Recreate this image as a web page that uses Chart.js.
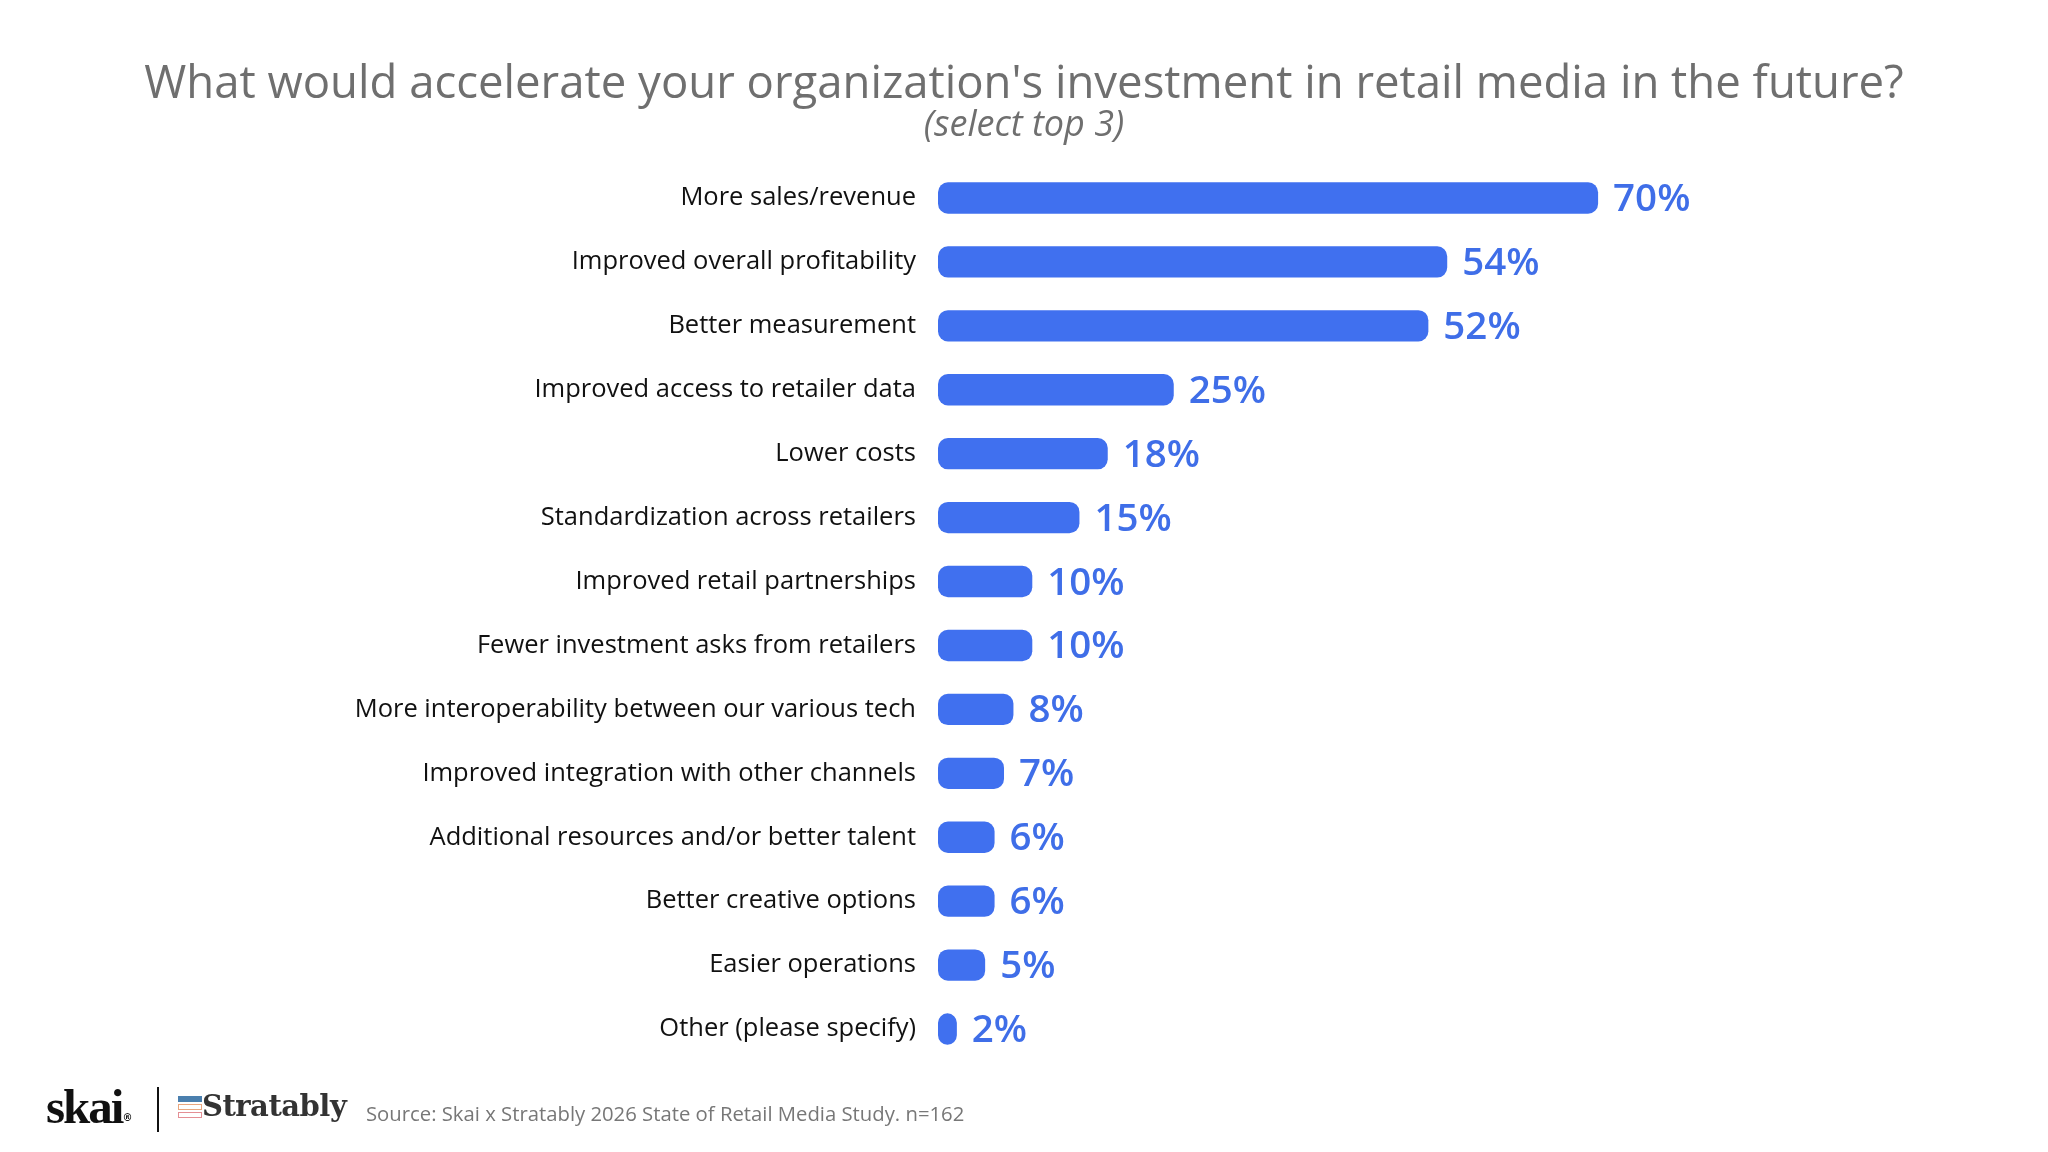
<!DOCTYPE html>
<html>
<head>
<meta charset="utf-8">
<script src="https://cdn.jsdelivr.net/npm/chart.js@4.4.1/dist/chart.umd.min.js"></script>
<style>
  html, body { margin: 0; padding: 0; background: #fff; }
  #wrap { position: relative; width: 2048px; height: 1152px; overflow: hidden; font-family: "Open Sans", sans-serif; }
  #chart { position: absolute; left: 0; top: 0; }
  .title { position: absolute; left: 0; width: 2048px; top: 49px; text-align: center; font-size: 45.5px; color: #6f6f6f; font-weight: 400; }
  .subtitle { position: absolute; left: 0; width: 2048px; top: 98px; text-align: center; font-size: 36px; color: #6f6f6f; font-style: italic; font-weight: 400; }
  .skai { position: absolute; left: 46px; top: 1078px; font-family: "Liberation Serif", serif; font-weight: 700; font-size: 49px; letter-spacing: -2px; color: #111; }
  .skai sup { font-size: 10px; font-family: "DejaVu Sans"; vertical-align: 2px; letter-spacing: 0; }
  .divider { position: absolute; left: 157px; top: 1087px; width: 2px; height: 45px; background: #111; }
  .strat-icon { position: absolute; left: 178px; top: 1096px; width: 24px; }
  .strat-icon div { height: 6px; margin-bottom: 2px; box-sizing: border-box; }
  .strat { position: absolute; left: 202px; top: 1089px; font-family: "DejaVu Serif", serif; font-weight: 700; font-size: 29px; color: #333; letter-spacing: -0.5px; }
  .source { position: absolute; left: 366px; top: 1099px; font-size: 20.3px; color: #777; }
</style>
</head>
<body>
<div id="wrap">
  <canvas id="chart" width="2048" height="1152"></canvas>
  <div class="title">What would accelerate your organization's investment in retail media in the future?</div>
  <div class="subtitle">(select top 3)</div>
  <div class="skai">skai<sup>®</sup></div>
  <div class="divider"></div>
  <div class="strat-icon">
    <div style="background:#4a7fae"></div>
    <div style="border:1px solid #e9a77f"></div>
    <div style="border:1px solid #e48f95"></div>
  </div>
  <div class="strat">Stratably</div>
  <div class="source">Source: Skai x Stratably 2026 State of Retail Media Study. n=162</div>
</div>
<script>
const categories = [
  'More sales/revenue',
  'Improved overall profitability',
  'Better measurement',
  'Improved access to retailer data',
  'Lower costs',
  'Standardization across retailers',
  'Improved retail partnerships',
  'Fewer investment asks from retailers',
  'More interoperability between our various tech',
  'Improved integration with other channels',
  'Additional resources and/or better talent',
  'Better creative options',
  'Easier operations',
  'Other (please specify)'
];
const shares = [70, 54, 52, 25, 18, 15, 10, 10, 8, 7, 6, 6, 5, 2];

const barBlue = '#4070ef';

// draws the "70%" style labels at the end of each bar
const valueLabels = {
  id: 'valueLabels',
  afterDatasetsDraw(chart) {
    const ctx = chart.ctx;
    const meta = chart.getDatasetMeta(0);
    ctx.save();
    ctx.font = '600 38.5px "Open Sans"';
    ctx.fillStyle = '#3f6ee8';
    ctx.textAlign = 'left';
    ctx.textBaseline = 'middle';
    meta.data.forEach((bar, i) => {
      ctx.fillText(shares[i] + '%', bar.x + 15, bar.y + 2);
    });
    ctx.restore();
  }
};

new Chart(document.getElementById('chart'), {
  type: 'bar',
  data: {
    labels: categories,
    datasets: [{
      data: shares,
      backgroundColor: barBlue,
      borderRadius: 10,
      borderSkipped: false,
      barPercentage: 0.49,
      categoryPercentage: 1
    }]
  },
  options: {
    indexAxis: 'y',
    responsive: false,
    animation: false,
    layout: { padding: { top: 166, bottom: 91, left: 0, right: 167 } },
    plugins: {
      legend: { display: false },
      tooltip: { enabled: false }
    },
    scales: {
      x: { display: false, min: 0, max: 100 },
      y: {
        afterFit(scale) { scale.width = 938; },
        grid: { display: false },
        border: { display: false },
        ticks: {
          color: '#111',
          padding: 14,
          font: { family: 'Open Sans', size: 25.5, lineHeight: 1.1 }
        }
      }
    }
  },
  plugins: [valueLabels]
});
</script>
</body>
</html>
